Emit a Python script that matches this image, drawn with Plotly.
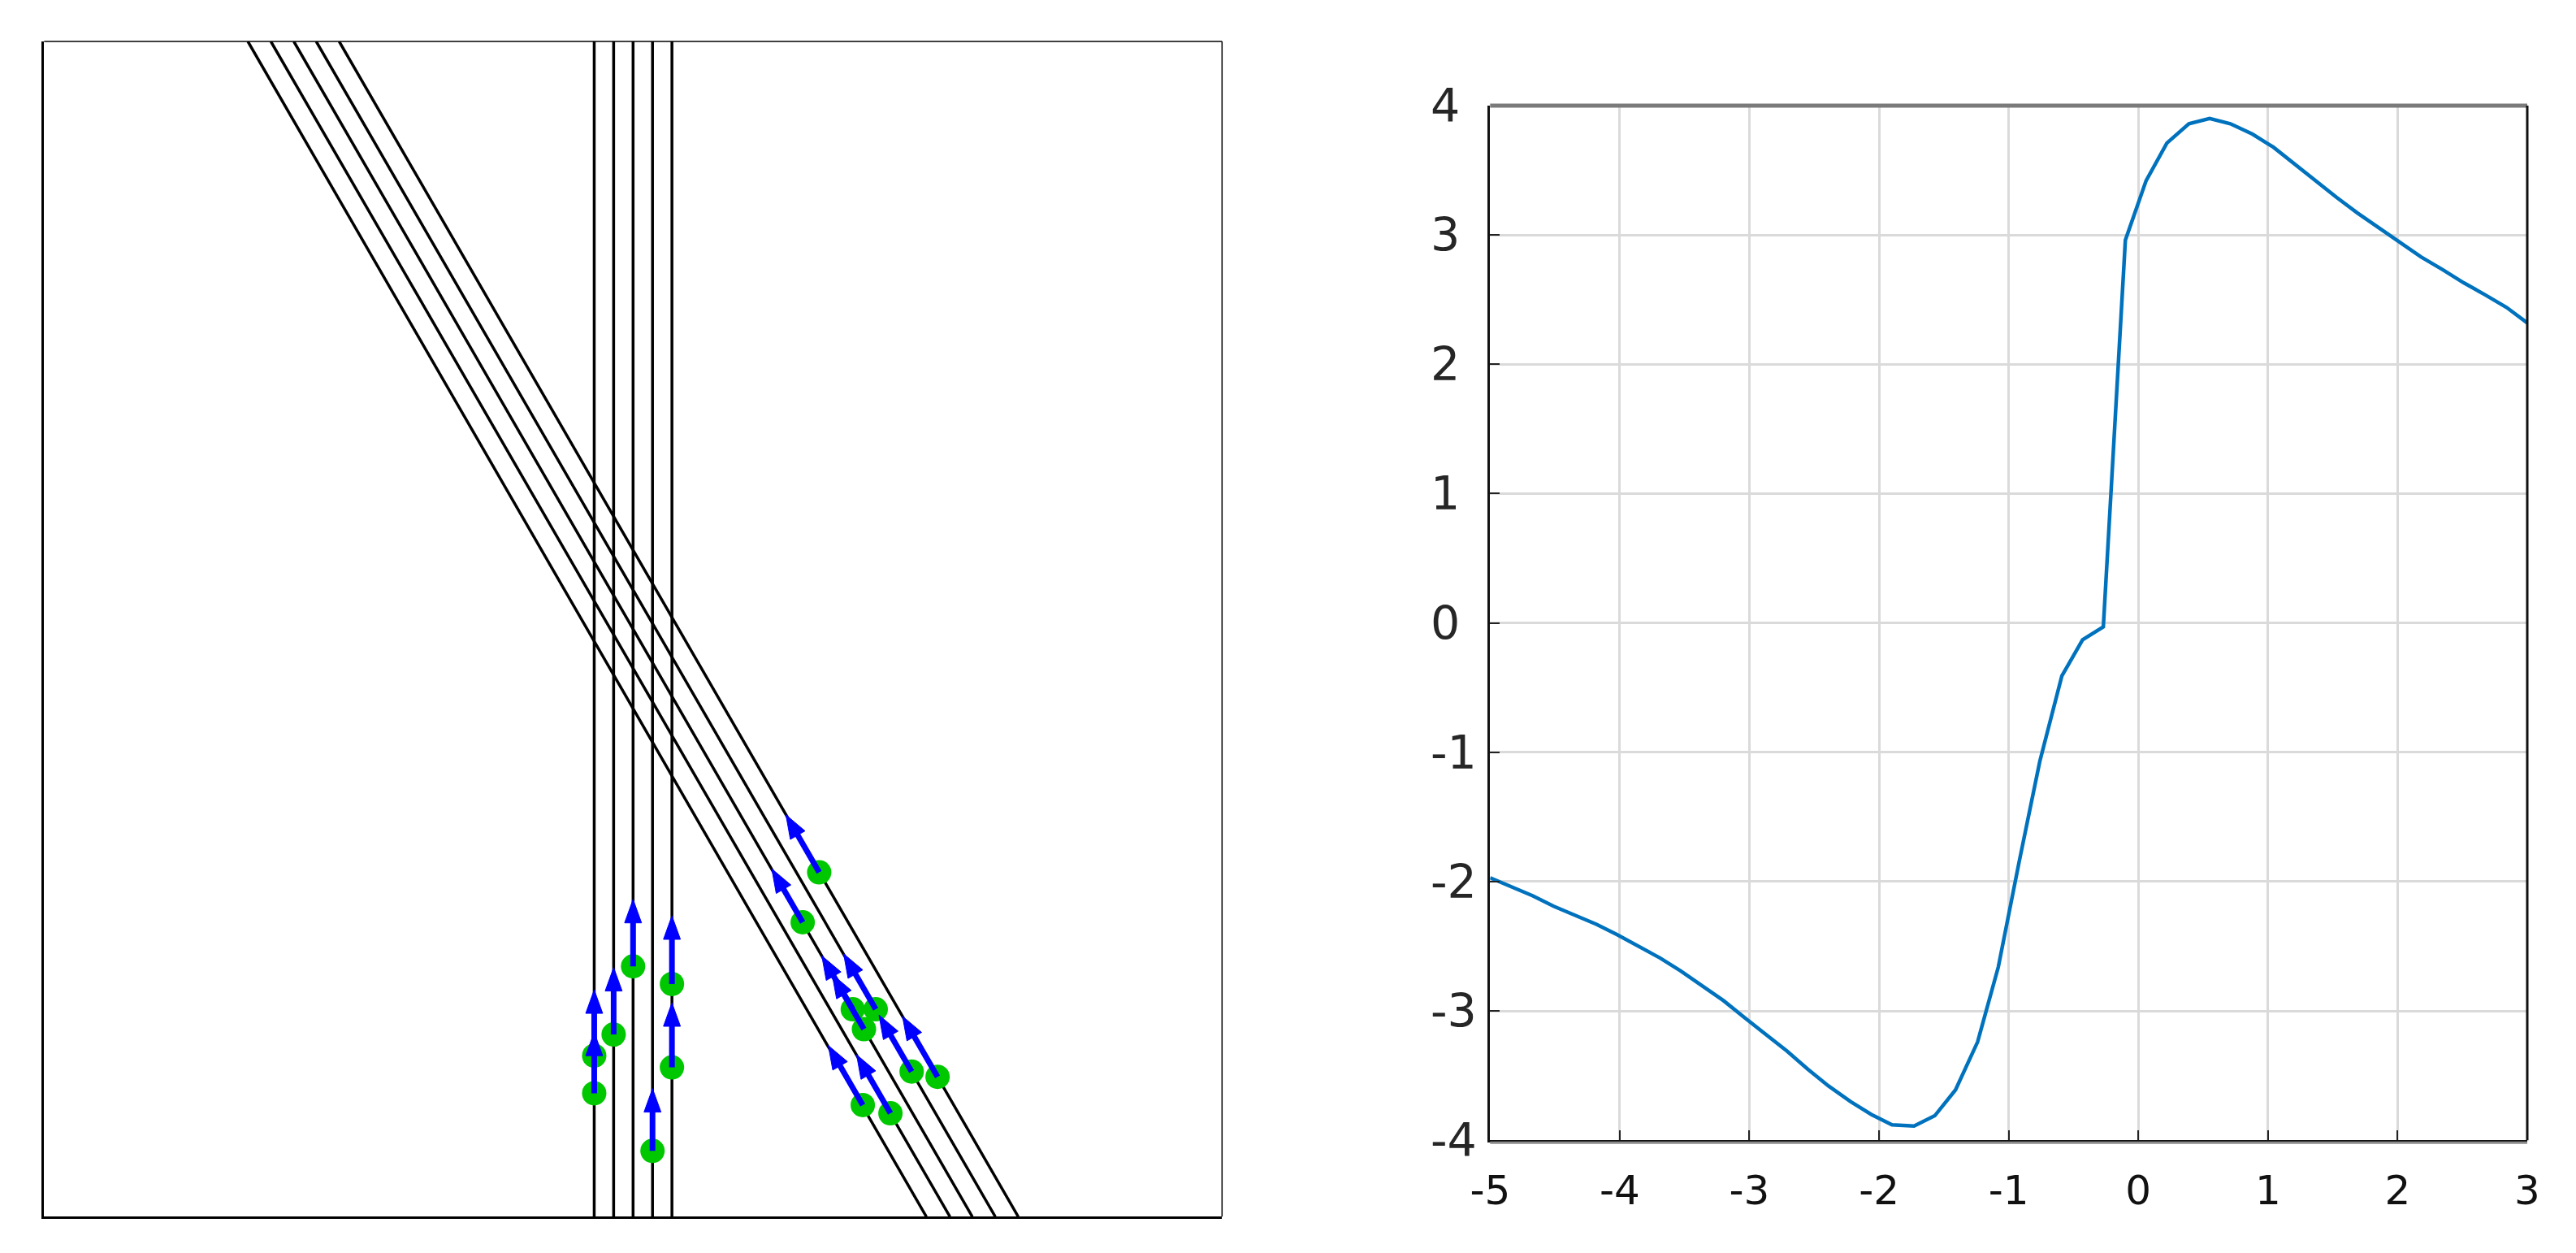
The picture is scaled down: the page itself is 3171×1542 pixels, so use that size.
import numpy as np
import plotly.graph_objects as go

W, H = 3171, 1542

# ---- left panel: lanes and vehicles (box is 0..100 in both directions) ----
vert_lane_x = [46.7, 48.35, 50.0, 51.65, 53.3]
diag_top_x = [17.3, 19.25, 21.2, 23.1, 25.05]     # where the tilted lanes meet y = 100
diag_bot_x = [74.9, 76.9, 78.8, 80.75, 82.7]      # where they meet y = 0

vert_car_x = [46.7, 46.7, 48.35, 50.0, 51.65, 53.3, 53.3]
vert_car_y = [10.5, 13.7, 15.5, 21.3, 5.6, 12.7, 19.8]
vert_car_speed = [5.2, 5.6, 5.7, 5.7, 5.3, 5.5, 5.8]
vert_heading = 90.0

diag_car_x = [65.8, 64.4, 68.65, 70.6, 69.6, 73.65, 75.85, 69.5, 71.85]
diag_car_y = [29.3, 25.05, 17.65, 17.65, 15.95, 12.35, 11.9, 9.5, 8.8]
diag_car_speed = [5.65, 5.25, 5.25, 5.45, 5.4, 5.55, 5.95, 5.85, 5.75]
diag_heading = 120.0

# ---- right panel: curve ----
curve_x = [-5.0, -4.84, -4.67, -4.51, -4.35, -4.18, -4.02, -3.86, -3.69, -3.53,
           -3.37, -3.2, -3.04, -2.88, -2.71, -2.55, -2.39, -2.22, -2.06, -1.9,
           -1.73, -1.57, -1.41, -1.24, -1.08, -0.92, -0.76, -0.59, -0.43, -0.27,
           -0.1, 0.06, 0.22, 0.39, 0.55, 0.71, 0.88, 1.04, 1.2, 1.37,
           1.53, 1.69, 1.86, 2.02, 2.18, 2.35, 2.51, 2.67, 2.84, 3.0]
curve_y = [-1.97, -2.04, -2.11, -2.19, -2.26, -2.33, -2.41, -2.5, -2.59, -2.69,
           -2.8, -2.92, -3.05, -3.18, -3.31, -3.45, -3.58, -3.7, -3.8, -3.88,
           -3.89, -3.81, -3.61, -3.24, -2.66, -1.85, -1.07, -0.41, -0.13, -0.03,
           2.96, 3.42, 3.71, 3.86, 3.9, 3.86, 3.78, 3.68, 3.55, 3.42,
           3.29, 3.17, 3.05, 2.94, 2.83, 2.73, 2.63, 2.54, 2.44, 2.32]
x_ticks = [-5, -4, -3, -2, -1, 0, 1, 2, 3]
x_tick_text = ["-5", "-4", "-3", "-2", "-1", "0", "1", "2", "3"]
y_ticks = [-4, -3, -2, -1, 0, 1, 2, 3, 4]
y_tick_text = ["-4", "-3", "-2", "-1", "0", "1", "2", "3", "4"]

HEAD_LEN = 2.0
HEAD_HALF = 0.72


def arrows(xs, ys, speeds, heading):
    a = np.radians(heading)
    d = np.array([np.cos(a), np.sin(a)])
    n = np.array([-d[1], d[0]])
    sx, sy, hx, hy = [], [], [], []
    for x, y, s in zip(xs, ys, speeds):
        p = np.array([x, y])
        tip = p + s * d
        base = tip - HEAD_LEN * d
        end = tip - 0.85 * HEAD_LEN * d
        sx += [p[0], end[0], None]
        sy += [p[1], end[1], None]
        l, r = base + HEAD_HALF * n, base - HEAD_HALF * n
        hx += [tip[0], l[0], r[0], tip[0], None]
        hy += [tip[1], l[1], r[1], tip[1], None]
    return sx, sy, hx, hy


fig = go.Figure()

# lanes
lx, ly = [], []
for x in vert_lane_x:
    lx += [x, x, None]
    ly += [0, 100, None]
for xt, xb in zip(diag_top_x, diag_bot_x):
    lx += [xt, xb, None]
    ly += [100, 0, None]
fig.add_trace(go.Scatter(x=lx, y=ly, mode="lines", line=dict(color="black", width=3.5),
                         xaxis="x", yaxis="y", hoverinfo="skip"))

# vehicles
fig.add_trace(go.Scatter(x=vert_car_x + diag_car_x, y=vert_car_y + diag_car_y, mode="markers",
                         marker=dict(color="#00c800", size=30, line=dict(width=0)),
                         xaxis="x", yaxis="y"))

shaft_x, shaft_y, head_x, head_y = [], [], [], []
for grp in [(vert_car_x, vert_car_y, vert_car_speed, vert_heading),
            (diag_car_x, diag_car_y, diag_car_speed, diag_heading)]:
    a, b, c, e = arrows(*grp)
    shaft_x += a
    shaft_y += b
    head_x += c
    head_y += e

fig.add_trace(go.Scatter(x=shaft_x, y=shaft_y, mode="lines", line=dict(color="#0000ff", width=7),
                         xaxis="x", yaxis="y", hoverinfo="skip"))
fig.add_trace(go.Scatter(x=head_x, y=head_y, mode="lines", fill="toself", fillcolor="#0000ff",
                         line=dict(color="#0000ff", width=1), xaxis="x", yaxis="y", hoverinfo="skip"))

# curve
fig.add_trace(go.Scatter(x=curve_x, y=curve_y, mode="lines", line=dict(color="#0072BD", width=4.5),
                         xaxis="x2", yaxis="y2"))

shapes = [
    # left box: thin top and right edges
    dict(type="line", xref="x domain", yref="y domain", x0=0, x1=1, y0=1, y1=1,
         line=dict(color="black", width=1.5)),
    dict(type="line", xref="x domain", yref="y domain", x0=1, x1=1, y0=0, y1=1,
         line=dict(color="black", width=1.5)),
    # right box
    dict(type="line", xref="x2 domain", yref="y2 domain", x0=0, x1=1, y0=1, y1=1,
         line=dict(color="#7a7a7a", width=5)),
    dict(type="line", xref="x2 domain", yref="y2 domain", x0=1, x1=1, y0=0, y1=1,
         line=dict(color="#111111", width=3)),
    dict(type="line", xref="x2 domain", yref="y2 domain", x0=0, x1=1, ysizemode="pixel",
         yanchor=0, y0=-3, y1=-3, line=dict(color="#8c8c8c", width=3)),
]

annotations = []
for v, t in zip(y_ticks, y_tick_text):
    annotations.append(dict(x=1759 / W, xref="paper", xanchor="left", y=v, yref="y2",
                            yanchor="middle", text=t, showarrow=False,
                            font=dict(family="DejaVu Sans", size=57, color="#262626")))

fig.update_layout(
    width=W, height=H,
    margin=dict(l=0, r=0, t=0, b=0, pad=0, autoexpand=False),
    paper_bgcolor="white", plot_bgcolor="white",
    showlegend=False,
    xaxis=dict(domain=[54.3 / W, 1504.3 / W], range=[0, 100], showgrid=False, zeroline=False,
               showticklabels=False, ticks="", showline=True, linecolor="black", linewidth=2.5,
               automargin=False),
    yaxis=dict(domain=[1 - 1497.3 / H, 1 - 51 / H], range=[0, 100], showgrid=False, zeroline=False,
               showticklabels=False, ticks="", showline=True, linecolor="black", linewidth=2.5,
               automargin=False),
    xaxis2=dict(domain=[1834.3 / W, 3111 / W], range=[-5, 3], anchor="y2",
                tickvals=x_ticks, ticktext=x_tick_text, ticks="inside", ticklen=12, tickwidth=2,
                tickcolor="#222222", showgrid=True, gridcolor="#dadada", gridwidth=2.5, zeroline=False,
                showline=True, linecolor="#111111", linewidth=3, ticklabelstandoff=16,
                tickfont=dict(family="DejaVu Sans", size=50, color="#111111"), automargin=False),
    yaxis2=dict(domain=[1 - 1403.3 / H, 1 - 130 / H], range=[-4, 4], anchor="x2",
                tickvals=y_ticks, ticks="inside", ticklen=12, tickwidth=2, tickcolor="#222222",
                showgrid=True, gridcolor="#dadada", gridwidth=2.5, zeroline=False,
                showline=True, linecolor="#111111", linewidth=2.5, showticklabels=False,
                automargin=False),
    shapes=shapes,
    annotations=annotations,
)

fig.write_html("out.html", config={"displayModeBar": False},
               post_script="document.body.style.margin='0';document.body.style.overflow='hidden';")
